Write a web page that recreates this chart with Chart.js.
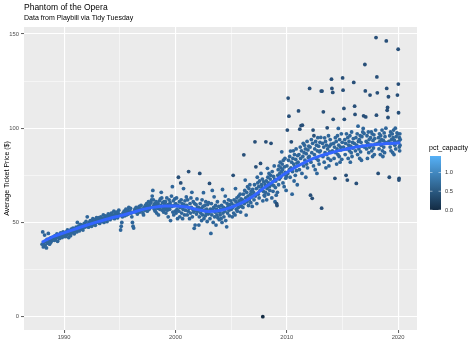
<!DOCTYPE html>
<html>
<head>
<meta charset="utf-8">
<script src="https://cdn.jsdelivr.net/npm/chart.js@4.4.1/dist/chart.umd.min.js"></script>
<style>
    html, body { margin: 0; padding: 0; background: #ffffff; }
    #wrap { width: 474px; height: 351px; }
</style>
</head>
<body>
<div id="wrap"><canvas id="phantomChart" width="474" height="351"></canvas></div>
<script>
// Weekly average ticket price (roughly every 2-3 weeks)
const seasons = [1988, 1989, 1990, 1991, 1992, 1993, 1994, 1995, 1996, 1997, 1998, 1999, 2000,
    2001, 2002, 2003, 2004, 2005, 2006, 2007, 2008, 2009, 2010, 2011, 2012, 2013, 2014, 2015,
    2016, 2017, 2018, 2019, 2020];
// share of the calendar year that has data (last season stops in March 2020)
const seasonSpan = seasons.map(y => (y === 2020 ? 0.2 : 1));
const weeklyPrices = [
    [38.5, 45, 37, 39.5, 43.3, 38, 40, 36.5, 41, 39, 44.2, 40.5, 38.5, 41.5, 39.5, 42, 40.5, 41],
    [41, 42.5, 40.5, 43, 41.5, 42, 44, 40, 42.5, 43.5, 41.5, 42.5, 44.5, 43, 42, 43.5, 45, 42.5],
    [43, 44.5, 42.5, 45, 43.5, 46, 44, 42, 45.5, 44, 43, 46.5, 45, 44.5, 47, 45.5, 44, 46],
    [46, 47.5, 45, 50, 46.5, 48, 45.5, 47, 49, 46.5, 48.5, 47, 46, 48, 49.5, 47.5, 48.5, 50.5],
    [48, 53, 49, 47.5, 50, 48.5, 51, 49.5, 48, 50.5, 52, 49, 50, 51.5, 48.5, 50, 52.5, 51],
    [51, 50, 52.5, 49.5, 51.5, 53, 50.5, 52, 51, 54, 50, 52.5, 51.5, 53.5, 52, 50.5, 53, 54.5],
    [52, 54, 51.5, 53, 55, 52.5, 54, 53.5, 56, 52, 54.5, 53, 55.5, 54, 52.5, 55, 56.5, 54],
    [54, 46, 48, 50, 53, 55, 54.5, 56, 53.5, 55, 57, 54, 55.5, 56.5, 54.5, 58, 55, 56, 57.5],
    [55, 53, 50, 48, 47, 56, 57, 55.5, 58, 56, 54.5, 57.5, 56, 58.5, 55.5, 57, 59, 56.5],
    [57, 55, 54, 58, 56.5, 59, 57.5, 60, 56, 58.5, 61, 57, 59.5, 58, 60.5, 62, 64, 67],
    [62, 59, 57, 60, 56, 58.5, 61, 55, 59.5, 57.5, 60, 54, 58, 61.5, 57, 62.5, 59, 66, 63, 56.5, 60.5, 58, 55.5, 61],
    [60, 57, 61, 55, 58, 63, 56.5, 59.5, 53, 58, 62, 57, 60.5, 51, 59, 64, 58.5, 69, 55.5, 61.5, 54, 59, 62.5, 56],
    [60, 55, 63, 57, 52, 59, 74, 56, 61, 53, 58, 71, 62, 55, 60, 52, 57, 68, 59.5, 54, 61.5, 56.5, 58.5, 63.5],
    [59, 54, 62, 56, 77, 57.5, 52, 60, 55, 63, 58, 66, 53, 57, 61, 55.5, 46.9, 60, 48.6, 56.5, 59.5, 54.5, 62.5, 58],
    [56, 58, 48.6, 53, 76, 60, 55, 57.5, 51, 62, 54, 58.5, 65.8, 52, 56.5, 59, 53.5, 61, 55, 57, 50.5, 59.5, 54.5, 60.5],
    [55, 70.7, 52, 57, 44.2, 60, 54, 67, 56.5, 50, 58, 63.6, 53, 55.5, 59, 48.6, 57, 54, 61, 52.5, 56, 58.5, 51.5, 55.5],
    [54, 57, 52, 59, 50, 67.5, 55, 58, 53, 61, 56, 64, 51, 57.5, 47.7, 60, 55, 58.5, 62, 56.5, 53.5, 59.5, 57, 61.5],
    [57, 60, 53, 58, 75, 55, 62, 59, 54, 68, 61, 57, 63, 56, 60, 58, 64, 61.5, 59.5, 65, 55.5, 62.5, 58.5, 60.5],
    [62, 58, 65, 85.9, 60, 67, 72.5, 63, 53.9, 66, 61, 69, 64, 59, 68, 62, 70, 65, 60.5, 66.5, 63.5, 58.5, 67.5, 64.5],
    [66, 62, 70, 92.8, 64, 79.5, 68, 60, 74, 71, 65, 69, 63, 72, 67, 81.3, 76, 70, 68.5, 73, 61.5, 66.5, 71.5, 64.5],
    [64, 70, 66, 92.8, 72, 62, 68, 78.7, 74, 65, 71, 76, 69, 67, 73, 75, 92, 70, 63, 77, 71.5, 66.5, 74.5, 69.5, 80, 73, 61, 68.5],
    [72, 64.5, 60, 59, 66, 75, 78, 70, 80, 73, 76, 82, 74, 79, 77, 87.5, 81, 78, 71, 83, 75.5, 69, 79.5, 84, 76.5, 73.5, 67, 74.5],
    [80, 99, 76, 116, 83, 106.4, 78, 85, 74, 87.9, 79, 92.8, 82, 65, 77, 84, 88, 81, 72, 86, 79.5, 75, 83.5, 89, 77.5, 81.5, 70, 85.5],
    [82, 109.2, 86, 78, 99.5, 90, 84, 101.4, 88, 76, 101.6, 85, 92, 80, 87, 91, 83, 89, 74, 86.5, 81, 93, 79, 88.5, 84.5, 90.5],
    [85, 121.1, 90, 64.5, 82, 94, 87, 62.8, 92, 99, 80, 96, 86, 89, 78, 93, 84, 91, 76, 88, 95, 83, 90.5, 81, 87.5, 92.5],
    [88, 95.1, 119.7, 57.6, 119.7, 92, 85, 108.7, 90, 82, 94.9, 87, 93, 79, 91, 86, 100.2, 89, 84, 96, 80, 90.5, 87.5, 94, 83, 91.5],
    [126, 121.1, 88, 119, 104.7, 92, 84, 90, 73.4, 95, 87, 93, 81, 89, 96, 86, 99.9, 91, 85, 94, 82, 90, 88.5, 97, 83.5, 92.5],
    [126.7, 120.2, 90, 110.5, 104.7, 94, 86, 92, 75, 97, 89, 72.5, 95, 84, 91, 93, 88, 96, 82, 90.5, 87, 98, 85, 92.5, 89.5, 94.5],
    [124.3, 92, 111.7, 107.3, 88, 95, 70.7, 91, 97, 86, 101.1, 93, 89, 94, 84, 96, 87.5, 92.5, 83, 95.5, 90.5, 98, 99.9, 106.6, 97.2, 90],
    [133.8, 119.8, 106, 93, 89, 96, 84, 92, 98, 87, 94, 90, 117.6, 95, 91, 98.1, 88, 97, 85, 93.5, 89.5, 96.5, 86, 94.5, 91.5, 99],
    [148.1, 106.9, 127.2, 118.8, 92, 76, 95, 89, 97, 93, 86, 96, 91, 94, 99, 88, 85, 93.5, 90, 97.5, 87, 95.5, 92.5, 100, 146.3, 121.1],
    [109.5, 111, 105.7, 116.7, 93, 74, 96, 90, 98, 88, 94, 92, 97, 87, 95, 99, 86, 93.5, 91, 100, 89, 95.5, 92.5, 97.5, 117.6, 96.9],
    [141.9, 123.4, 108.2, 93, 72.5, 73.4, 90, 95, 88, 97, 91, 94]
];

// the one week with zero capacity and zero price
const closedWeek = [2007.85];
const closedPrice = [0];

// loess trend line
const trendYears = [1988, 1989, 1990, 1991, 1992, 1993, 1994, 1995, 1996, 1997, 1998, 1999, 2000,
    2001, 2002, 2003, 2004, 2005, 2006, 2007, 2008, 2009, 2010, 2011, 2012, 2013, 2014, 2015,
    2016, 2017, 2018, 2019, 2020, 2020.2];
const trendPrices = [39.5, 42.5, 44.5, 46.5, 48.5, 50.3, 52, 53.5, 55, 56.8, 58, 58.7, 58.8,
    58.2, 56.8, 55.8, 56.3, 58, 60.5, 64, 68.5, 72.5, 76.5, 80, 83, 85.3, 87, 88.5,
    89.8, 90.7, 91.4, 91.9, 92.2, 92.3];

const yTicks = [0, 25, 50, 75, 100, 125, 150];
const xTicks = [1990, 1995, 2000, 2005, 2010, 2015, 2020];
const legendTicks = [0, 0.5, 1.0];

// ggplot default continuous colour scale
const lowColor = [19, 43, 67];
const highColor = [86, 177, 247];
const capacityMax = 1.44;

function capacityColor(c) {
    const t = Math.max(0, Math.min(1, c / capacityMax));
    const rgb = lowColor.map((v, i) => Math.round(v + (highColor[i] - v) * t));
    return 'rgb(' + rgb.join(',') + ')';
}

const weekPoints = [];
seasons.forEach((y, i) => {
    const row = weeklyPrices[i];
    row.forEach((p, j) => {
        weekPoints.push({ x: y + seasonSpan[i] * (j + 0.5) / row.length, y: p });
    });
});

const trendPoints = trendYears.map((y, i) => ({ x: y, y: trendPrices[i] }));
const closedPoints = closedWeek.map((y, i) => ({ x: y, y: closedPrice[i] }));

function trendNear(x) {
    const i = Math.max(0, Math.min(trendPrices.length - 1, Math.round(x) - 1988));
    return trendPrices[i];
}

const FONT = "'Liberation Sans', Arial, sans-serif";

const ggPlugin = {
    id: 'ggPlugin',
    beforeDraw(chart) {
        const { ctx, chartArea: a } = chart;
        ctx.save();
        ctx.fillStyle = '#ffffff';
        ctx.fillRect(0, 0, chart.width, chart.height);
        ctx.fillStyle = '#EBEBEB';
        ctx.fillRect(a.left, a.top, a.right - a.left, a.bottom - a.top);
        ctx.restore();
    },
    afterDraw(chart) {
        const ctx = chart.ctx;
        ctx.save();
        // titles
        ctx.fillStyle = '#000000';
        ctx.textAlign = 'left';
        ctx.textBaseline = 'alphabetic';
        ctx.font = '8.5px ' + FONT;
        ctx.fillText('Phantom of the Opera', 24, 10);
        ctx.font = '7px ' + FONT;
        ctx.fillText('Data from Playbill via Tidy Tuesday', 24, 19.5);

        // colourbar legend
        const bx = 430, bw = 11, top = 156, bottom = 210;
        const grad = ctx.createLinearGradient(0, bottom, 0, top);
        grad.addColorStop(0, capacityColor(0));
        grad.addColorStop(1, capacityColor(capacityMax));
        ctx.fillStyle = grad;
        ctx.fillRect(bx, top, bw, bottom - top);
        ctx.font = '7px ' + FONT;
        ctx.fillStyle = '#000000';
        ctx.fillText('pct_capacity', 429, 150);
        ctx.font = '5.8px ' + FONT;
        ctx.fillStyle = '#333333';
        ctx.textBaseline = 'middle';
        const perUnit = (bottom - top) / capacityMax;
        legendTicks.forEach(v => {
            const yy = bottom - v * perUnit;
            ctx.strokeStyle = 'rgba(255,255,255,0.8)';
            ctx.lineWidth = 0.6;
            ctx.beginPath();
            ctx.moveTo(bx, yy); ctx.lineTo(bx + 2.5, yy);
            ctx.moveTo(bx + bw - 2.5, yy); ctx.lineTo(bx + bw, yy);
            ctx.stroke();
            ctx.fillText(v.toFixed(1), bx + bw + 4, yy);
        });
        ctx.restore();
    }
};

const ctx = document.getElementById('phantomChart').getContext('2d');
new Chart(ctx, {
    type: 'scatter',
    data: {
        datasets: [
            {
                type: 'line',
                label: 'trend',
                data: trendPoints,
                borderColor: '#3366FF',
                borderWidth: 3,
                pointRadius: 0,
                cubicInterpolationMode: 'monotone',
                fill: false,
                order: 0
            },
            {
                label: 'weekly',
                data: weekPoints,
                pointRadius: 1.9,
                pointBorderWidth: 0,
                backgroundColor: c => {
                    const r = c.raw;
                    if (!r) return capacityColor(0.9);
                    return Math.abs(r.y - trendNear(r.x)) > 12 ? '#284f78' : '#2f669a';
                },
                order: 1
            },
            {
                label: 'closed',
                data: closedPoints,
                pointRadius: 1.9,
                pointBorderWidth: 0,
                backgroundColor: capacityColor(0),
                order: 1
            }
        ]
    },
    options: {
        responsive: false,
        animation: false,
        layout: { padding: { top: 27, right: 57, bottom: 0, left: 0 } },
        plugins: {
            legend: { display: false },
            tooltip: { enabled: false },
            title: { display: false }
        },
        scales: {
            x: {
                type: 'linear',
                min: 1986.4,
                max: 2021.7,
                afterBuildTicks: s => { s.ticks = xTicks.map(v => ({ value: v })); },
                afterFit: s => { s.height = 21; },
                border: { display: false },
                grid: {
                    color: '#ffffff',
                    lineWidth: c => (c.tick && c.tick.value % 10 === 0 ? 1.1 : 0.5),
                    tickColor: c => (c.tick && c.tick.value % 10 === 0 ? '#333333' : 'rgba(0,0,0,0)'),
                    tickLength: 3,
                    tickWidth: 0.8
                },
                ticks: {
                    autoSkip: false,
                    maxRotation: 0,
                    padding: 1,
                    color: '#4D4D4D',
                    font: { family: FONT, size: 5.8 },
                    callback: v => (v % 10 === 0 ? String(v) : '')
                }
            },
            y: {
                min: -7.05,
                max: 153.7,
                afterBuildTicks: s => { s.ticks = yTicks.map(v => ({ value: v })); },
                afterFit: s => { s.width = 24; },
                border: { display: false },
                grid: {
                    color: '#ffffff',
                    lineWidth: c => (c.tick && c.tick.value % 50 === 0 ? 1.1 : 0.5),
                    tickColor: c => (c.tick && c.tick.value % 50 === 0 ? '#333333' : 'rgba(0,0,0,0)'),
                    tickLength: 3,
                    tickWidth: 0.8
                },
                ticks: {
                    autoSkip: false,
                    padding: 2,
                    color: '#4D4D4D',
                    font: { family: FONT, size: 5.8 },
                    callback: v => (v % 50 === 0 ? String(v) : '')
                },
                title: {
                    display: true,
                    text: 'Average Ticket Price ($)',
                    color: '#000000',
                    font: { family: FONT, size: 7 },
                    padding: { top: 3, bottom: 0 }
                }
            }
        }
    },
    plugins: [ggPlugin]
});
</script>
</body>
</html>
